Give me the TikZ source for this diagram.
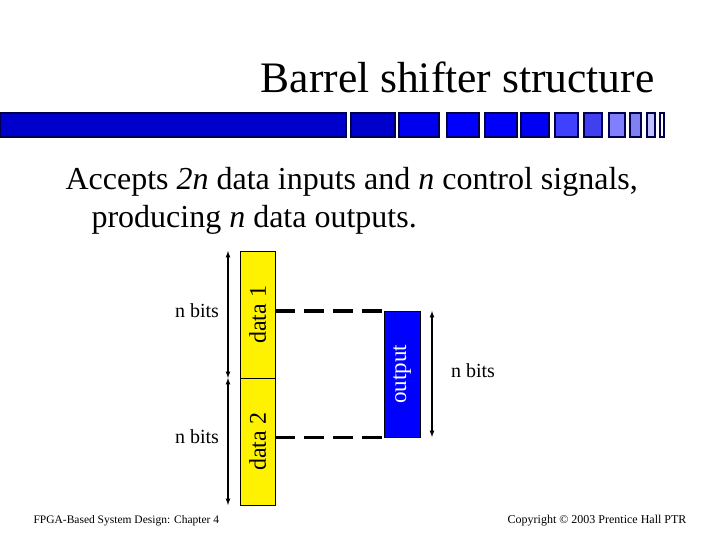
\documentclass[tikz,border=0pt]{standalone}
\usepackage{fontspec}
\setmainfont{Liberation Serif}
\begin{document}
\begin{tikzpicture}[x=1pt,y=-1pt,
  seg/.style={draw=black!70!blue,line width=1.2pt},
  dim/.style={<->,>=latex,line width=1.2pt},
  dsh/.style={line width=3.5pt,dash pattern=on 20pt off 9pt}]
\useasboundingbox (0,0) rectangle (720,540);
\node[anchor=base east,font=\fontsize{43.5}{50}\selectfont] (title) at (658,93) {Barrel shifter structure};
\foreach \a/\b/\c in {0/346/{0,0,204},351/395/{0,0,204},399/439/{0,0,240},447/479/{0,0,255},485/517/{0,0,250},521/549/{0,0,245},555/578/{64,64,255},584/602/{64,64,240},609/625/{128,128,255},630/641/{128,128,240},647/655/{192,192,255},660/664/{255,255,255}}
  {\definecolor{tmp}{RGB}{\c}\fill[tmp,seg] (\a,113) rectangle (\b,137);}
\node[anchor=base west,font=\fontsize{32}{38}\selectfont] (txt1) at (62,190) {Accepts \textit{2n} data inputs and \textit{n} control signals,};
\node[anchor=base west,font=\fontsize{32}{38}\selectfont] (txt2) at (88,228) {producing \textit{n} data outputs.};
\node[draw,fill=yellow,minimum width=35,minimum height=127,inner sep=0,anchor=north west] (d1) at (240,251) {};
\node[draw,fill=yellow,minimum width=35,minimum height=127,inner sep=0,anchor=north west] (d2) at (240,378) {};
\node[rotate=90,font=\fontsize{24}{28}\selectfont] at (d1) {data 1};
\node[rotate=90,font=\fontsize{24}{28}\selectfont] at (d2) {data 2};
\node[draw,fill=blue,minimum width=36,minimum height=126,inner sep=0,anchor=north west] (out) at (384,311) {};
\node[rotate=90,text=white,font=\fontsize{23}{28}\selectfont] at (out) {output};
\coordinate (a1) at (228,251); \coordinate (a2) at (228,378); \coordinate (a3) at (228,505);
\draw[dim] (a1) -- (a2);
\draw[dim] (a2) -- (a3);
\coordinate (b1) at (432,311); \coordinate (b2) at (432,437);
\draw[dim] (b1) -- (b2);
\draw[dsh] (d1.east |- out.north) -- (out.north west);
\draw[dsh] (d2.east |- out.south) -- (out.south west);
\node[font=\fontsize{20}{24}\selectfont] (n1) at (197,311) {n bits};
\node[font=\fontsize{20}{24}\selectfont] (n2) at (197,437) {n bits};
\node[font=\fontsize{20}{24}\selectfont] (n3) at (473,371) {n bits};
\node[anchor=base west,font=\fontsize{11.5}{14}\selectfont] (f1) at (30,523) {FPGA-Based System Design: Chapter 4};
\node[anchor=base east,font=\fontsize{12}{14}\selectfont] (f2) at (690,523) {Copyright \textcopyright{} 2003 Prentice Hall PTR};
\end{tikzpicture}
\end{document}
